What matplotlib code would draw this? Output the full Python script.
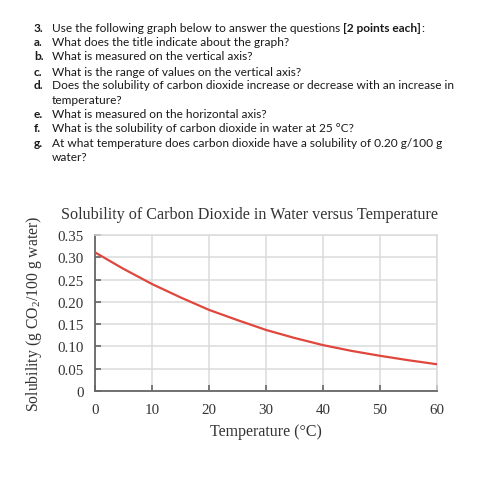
import matplotlib
matplotlib.use("Agg")
import matplotlib.pyplot as plt

# ---- data ----
temperature = [0, 5, 10, 15, 20, 25, 30, 35, 40, 45, 50, 55, 60]
solubility = [0.311, 0.274, 0.240, 0.210, 0.182, 0.159, 0.137, 0.119, 0.103, 0.090, 0.079, 0.069, 0.060]
x_ticks = [0, 10, 20, 30, 40, 50, 60]
y_ticks = [0, 0.05, 0.10, 0.15, 0.20, 0.25, 0.30, 0.35]
y_tick_labels = ["0", "0.05", "0.10", "0.15", "0.20", "0.25", "0.30", "0.35"]

question_labels = ["3.", "a.", "b.", "c.", "d.", "", "e.", "f.", "g.", ""]
question_lines = [
    "Use the following graph below to answer the questions ",
    "What does the title indicate about the graph?",
    "What is measured on the vertical axis?",
    "What is the range of values on the vertical axis?",
    "Does the solubility of carbon dioxide increase or decrease with an increase in",
    "temperature?",
    "What is measured on the horizontal axis?",
    "What is the solubility of carbon dioxide in water at 25 °C?",
    "At what temperature does carbon dioxide have a solubility of 0.20 g/100 g",
    "water?",
]

serif = "Liberation Serif"
plt.rcParams["mathtext.fontset"] = "custom"
plt.rcParams["mathtext.rm"] = serif
plt.rcParams["mathtext.it"] = serif + ":italic"

W, H = 490, 502
fig = plt.figure(figsize=(W / 100, H / 100), dpi=100)
fig.patch.set_facecolor("white")

# ---- question text ----
qfont = ["Lato", "DejaVu Sans"]
qsize = 8.6
line_y = [28, 43, 57, 72, 86, 100, 115, 129, 144, 158]
for lab, txt, yy in zip(question_labels, question_lines, line_y):
    fy = 1 - yy / H
    if lab:
        fig.text(34 / W, fy, lab, fontsize=qsize, family=qfont, fontweight="bold",
                 va="center", ha="left", color="#1a1a1a")
    t = fig.text(52 / W, fy, txt, fontsize=qsize, family=qfont, va="center",
                 ha="left", color="#1a1a1a")
    if lab == "3.":
        t2 = fig.text(0, 0, "[2 points each]", fontsize=qsize, family=qfont,
                      fontweight="bold", color="#1a1a1a")
        t3 = fig.text(0, 0, ":", fontsize=qsize, family=qfont, color="#1a1a1a")
        fig.canvas.draw()
        r = fig.canvas.get_renderer()
        bb = t.get_window_extent(r)
        t2.set_position((bb.x1 / W, bb.y0 / H))
        t2.set_va("bottom")
        fig.canvas.draw()
        bb2 = t2.get_window_extent(r)
        t3.set_position((bb2.x1 / W, bb.y0 / H))
        t3.set_va("bottom")

# ---- chart ----
left, right, top, bottom = 95, 437, 236, 392
ax = fig.add_axes([left / W, 1 - bottom / H, (right - left) / W, (bottom - top) / H])
ax.set_xlim(0, 60)
ax.set_ylim(0, 0.35)

ax.plot(temperature, solubility, color="#e0473c", lw=1.6, zorder=3)

ax.set_xticks(x_ticks)
ax.set_yticks(y_ticks)
ax.set_yticklabels(y_tick_labels)
for lbl in ax.get_xticklabels() + ax.get_yticklabels():
    lbl.set_family(serif)
    lbl.set_fontsize(10.8)
    lbl.set_color("#333333")

ax.grid(True, color="#d8dbdd", lw=1.1, ls="-")
ax.set_axisbelow(True)
for s in ["top", "right"]:
    ax.spines[s].set_color("#d8dbdd")
    ax.spines[s].set_linewidth(1.1)
for s in ["left", "bottom"]:
    ax.spines[s].set_color("#666666")
    ax.spines[s].set_linewidth(1.3)
ax.tick_params(direction="in", length=4, width=1.2, color="#666666")
ax.tick_params(axis="x", pad=9)
ax.tick_params(axis="y", pad=8)

ax.set_xlabel("Temperature (°C)", family=serif, fontsize=11.5, color="#333333", labelpad=5)
ax.set_ylabel("Solubility (g CO$_2$/100 g water)", family=serif, fontsize=11.3,
              color="#333333", labelpad=10)

fig.text(249.5 / W, 1 - 215 / H, "Solubility of Carbon Dioxide in Water versus Temperature",
         family=serif, fontsize=11.6, ha="center", va="center", color="#333333")

fig.savefig("out.png", dpi=100, facecolor="white")
